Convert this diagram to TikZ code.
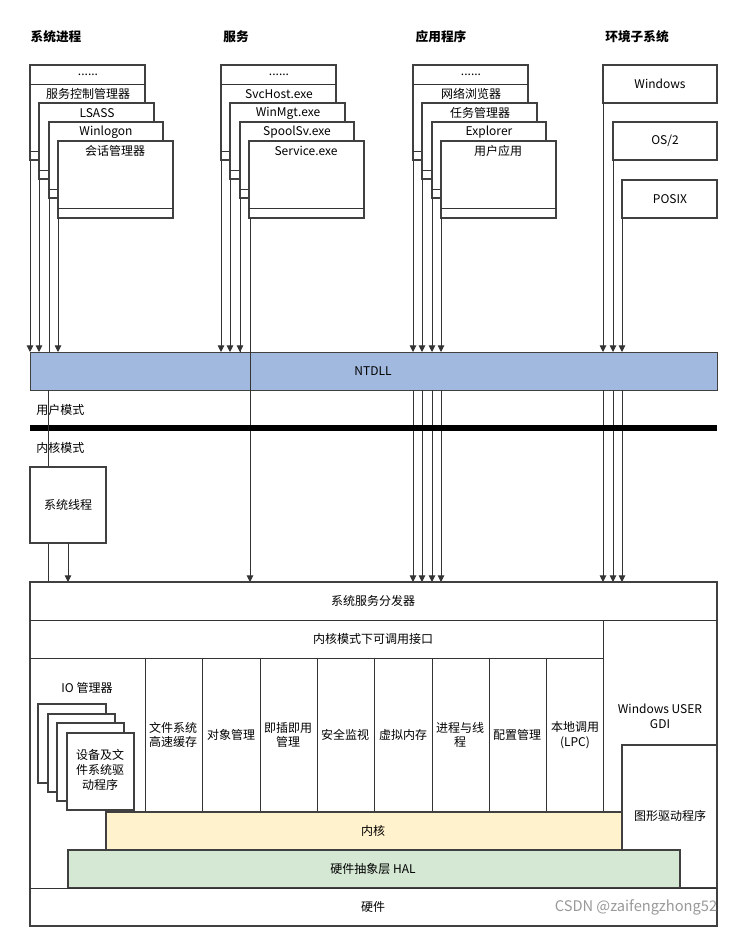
\documentclass[tikz,border=0pt]{standalone}
\usepackage{fontspec}
\setmainfont{Noto Sans CJK SC}
\usetikzlibrary{arrows.meta}
\begin{document}
\begin{tikzpicture}[x=0.75pt,y=-0.75pt,
  box/.style={draw=black!75,fill=white,line width=0.8pt},
  lbl/.style={font=\fontsize{9}{11}\selectfont,inner sep=0pt,align=center},
  hdr/.style={font=\fontsize{9.5}{11}\selectfont\bfseries,inner sep=0pt},
  arr/.style={draw=black!80,line width=0.7pt,-{Triangle[length=5pt,width=5pt]}},
  ln/.style={draw=black!80,line width=0.7pt}]
\useasboundingbox (0,0) rectangle (747,927);
% headers
\node[hdr] (h1) at (56,37) {系统进程};
\node[hdr] (h2) at (236,37) {服务};
\node[hdr] (h3) at (441,37) {应用程序};
\node[hdr] (h4) at (637,37) {环境子系统};
% NTDLL
\node[draw=black!75,fill={rgb,255:red,161;green,185;blue,223},line width=0.8pt,minimum width=687*0.75pt,minimum height=38*0.75pt,anchor=north west,inner sep=0pt] (ntdll) at (30,352) {};
\node[lbl] (ntdlltxt) at (373,371) {NTDLL};
% stacked groups
\foreach \dx/\ta/\tb/\tc/\td/\te [count=\g] in {0/{......}/服务控制管理器/LSASS/Winlogon/会话管理器, 191/{......}/SvcHost.exe/WinMgt.exe/SpoolSv.exe/Service.exe, 383/{......}/网络浏览器/任务管理器/Explorer/用户应用}{
  \begin{scope}[xshift=\dx*0.75pt]
  \draw[arr] (30,160) -- (30,352);
  \draw[arr] (39,179) -- (39,352);
  \draw[box] (30,65) rectangle (145,160);
  \draw[ln] (30,84) -- (145,84) (30,151) -- (145,151);
  \node[lbl] (g\g a) at (88,75) {\ta};
  \node[lbl] (g\g b) at (88,94) {\tb};
  \draw[box] (39,103) rectangle (154,179);
  \draw[ln] (39,170) -- (154,170);
  \node[lbl] (g\g c) at (97,113) {\tc};
  \draw[box] (49,122) rectangle (163,198);
  \draw[ln] (49,189) -- (163,189);
  \node[lbl] (g\g d) at (106,132) {\td};
  \draw[box] (58,141) rectangle (173,218);
  \draw[ln] (58,208) -- (173,208);
  \node[lbl] (g\g e) at (115,151) {\te};
  \end{scope}
}
% group 1 extra
\draw[ln] (49,198) -- (49,352);
\draw[arr] (58,218) -- (58,352);
% group 2 extra
\draw[ln] (240,198) -- (240,352);
\draw[arr] (240,198) -- (240,352);
\draw[arr] (250,218) -- (250,582);
% group 3 extra
\draw[arr] (432,198) -- (432,352);
\draw[arr] (441,218) -- (441,352);
\foreach \x in {413,422,432,441}{\draw[arr] (\x,390) -- (\x,582);}
% environment
\draw[box] (603,65) rectangle (717,103);
\node[lbl] (win) at (660,84) {Windows};
\draw[box] (613,122) rectangle (717,160);
\node[lbl] (os2) at (665,141) {OS/2};
\draw[box] (622,180) rectangle (717,218);
\node[lbl] (posix) at (670,199) {POSIX};
\draw[arr] (603,103) -- (603,352);
\draw[arr] (613,160) -- (613,352);
\draw[arr] (622,218) -- (622,352);
\foreach \x in {603,613,622}{\draw[arr] (\x,390) -- (\x,582);}
% modes
\node[lbl,anchor=west] (um) at (36,410) {用户模式};
\draw[line width=3.8pt] (30,428) -- (717,428);
\node[lbl,anchor=west] (km) at (36,448) {内核模式};
\draw[ln] (48,390) -- (48,582);
\draw[box] (30,467) rectangle (106,543);
\node[lbl] (thr) at (68,505) {系统线程};
\draw[arr] (68,543) -- (68,582);
% kernel area
\draw[box] (30,582) rectangle (717,926);
\draw[ln] (30,620) -- (717,620);
\node[lbl] (ssd) at (373,601) {系统服务分发器};
\draw[ln] (30,658) -- (603,658) (603,620) -- (603,812);
\node[lbl] (kci) at (373,639) {内核模式下可调用接口};
\foreach \x in {145,202,260,317,374,432,489,546}{\draw[ln] (\x,658) -- (\x,812);}
\node[lbl] (fs) at (173,735) {文件系统\\高速缓存};
\node[lbl] (om) at (231,735) {对象管理};
\node[lbl] (pnp) at (288,735) {即插即用\\管理};
\node[lbl] (sec) at (345,735) {安全监视};
\node[lbl] (vm) at (403,735) {虚拟内存};
\node[lbl] (pt) at (460,735) {进程与线\\程};
\node[lbl] (cfg) at (517,735) {配置管理};
\node[lbl] (lpc) at (575,735) {本地调用\\(LPC)};
\node[lbl] (gdi) at (660,716) {Windows USER\\GDI};
\node[lbl] (io) at (87,688) {IO 管理器};
\draw[box] (38,704) rectangle (106,783);
\draw[box] (48,714) rectangle (115,792);
\draw[box] (57,723) rectangle (124,801);
\draw[box] (67,733) rectangle (134,810);
\node[lbl] (drv) at (100,770) {设备及文\\件系统驱\\动程序};
\draw[box] (622,745) rectangle (717,888);
\node[lbl] (gd) at (670,816) {图形驱动程序};
\draw[draw=black!75,line width=0.8pt,fill={rgb,255:red,255;green,242;blue,204}] (106,812) rectangle (622,850);
\node[lbl] (kern) at (373,831) {内核};
\draw[draw=black!75,line width=0.8pt,fill={rgb,255:red,213;green,232;blue,212}] (68,850) rectangle (680,888);
\node[lbl] (hal) at (373,869) {硬件抽象层 HAL};
\draw[ln] (30,888) -- (717,888);
\node[lbl] (hw) at (373,907) {硬件};
\node[font=\fontsize{11}{13}\selectfont,text=black!40,inner sep=0pt] (wm) at (636,907) {CSDN @zaifengzhong52};
\end{tikzpicture}
\end{document}
